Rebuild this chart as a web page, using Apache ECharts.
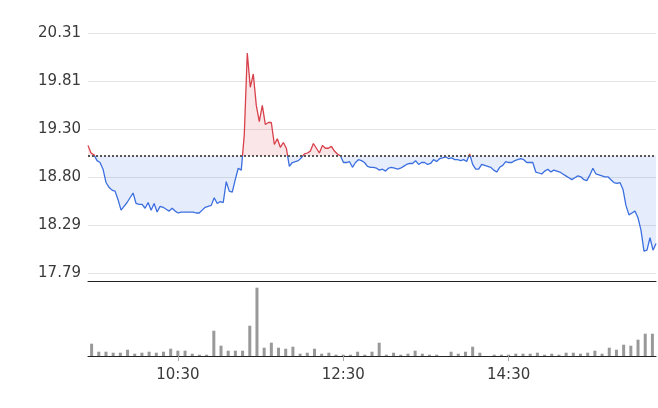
<!DOCTYPE html>
<html><head><meta charset="utf-8">
<script src="https://cdn.jsdelivr.net/npm/echarts@6/dist/echarts.min.js"></script>
<style>html,body{margin:0;padding:0;background:#fff}#c{width:658px;height:408px}</style>
</head><body><div id="c"></div>
<script>
const prevClose = 19.02;
const yMin = 17.79, yMax = 20.31, yStep = 0.504;

const prices = [
19.13,19.05,19.03,18.97,18.95,18.88,18.74,18.69,18.66,18.65,
18.56,18.45,18.49,18.53,18.58,18.63,18.52,18.51,18.51,18.47,
18.53,18.45,18.52,18.43,18.49,18.48,18.46,18.44,18.47,18.44,
18.42,18.43,18.43,18.43,18.43,18.43,18.42,18.42,18.45,18.48,
18.49,18.50,18.58,18.52,18.54,18.53,18.75,18.65,18.64,18.77,
18.89,18.87,19.24,20.10,19.74,19.88,19.55,19.38,19.55,19.35,
19.37,19.37,19.14,19.20,19.11,19.16,19.10,18.91,18.95,18.96,
18.97,19.00,19.04,19.05,19.07,19.15,19.10,19.05,19.13,19.10,
19.10,19.12,19.07,19.04,19.02,18.95,18.95,18.96,18.90,18.95,
18.98,18.97,18.95,18.91,18.90,18.90,18.89,18.87,18.88,18.86,
18.89,18.90,18.89,18.88,18.89,18.91,18.93,18.94,18.94,18.97,
18.93,18.95,18.95,18.93,18.94,18.98,18.96,18.99,19.00,19.01,
18.99,19.00,18.98,18.98,18.97,18.98,18.96,19.04,18.93,18.88,
18.88,18.93,18.92,18.91,18.90,18.87,18.85,18.90,18.92,18.96,
18.95,18.95,18.97,18.98,18.99,18.98,18.95,18.95,18.95,18.85,
18.84,18.83,18.86,18.88,18.85,18.87,18.86,18.85,18.83,18.81,
18.79,18.77,18.79,18.81,18.80,18.77,18.76,18.82,18.89,18.83,
18.82,18.81,18.80,18.80,18.77,18.74,18.73,18.74,18.67,18.50,
18.40,18.42,18.44,18.37,18.24,18.02,18.03,18.16,18.03,18.10
];

const volumes = [
12.3,4.3,4.3,3.3,3.3,6.3,2.3,3.3,4.3,3.3,
4.3,7.3,5.3,5.3,2.3,1.3,1.3,25.3,10.3,5.3,
5.3,5.3,30.3,68.3,8.3,13.3,8.3,7.3,9.3,2.3,
3.3,7.3,2.3,3.3,1.3,1.3,1.3,4.3,1.3,4.3,
13.3,1.3,3.3,1.3,2.3,5.3,2.3,1.3,1.3,0,
4.3,2.3,4.3,9.3,3.3,0,1.3,1.3,1.3,2.3,
2.3,2.3,3.3,1.3,2.3,1.3,3.3,3.3,2.3,3.3,
5.3,2.3,8.3,6.3,11.3,10.3,16.3,22.3,22.3
];
const volMax = 75;

const tickLabels = ['10:30', '12:30', '14:30'];
const tickSlots = [12, 35, 58];

const slotNames = volumes.map(function (v, i) {
  const k = tickSlots.indexOf(i);
  return k >= 0 ? tickLabels[k] : String(i);
});
const showSlot = function (i) { return tickSlots.indexOf(i) >= 0; };

const FONT = 'DejaVu Sans';
const chart = echarts.init(document.getElementById('c'), null, {renderer: 'canvas'});
chart.setOption({
  animation: false,
  backgroundColor: '#fff',
  grid: [
    {left: 88, right: 2, top: 33, height: 240},
    {left: 88, right: 2, top: 281, height: 75}
  ],
  xAxis: [
    {type: 'value', gridIndex: 0, min: 0, max: prices.length - 1, show: false},
    {type: 'category', gridIndex: 1, data: slotNames, boundaryGap: true,
      axisLine: {show: true, lineStyle: {color: '#222', width: 1}},
      axisTick: {show: true, interval: showSlot, alignWithLabel: true, length: 5, lineStyle: {color: '#aaa'}},
      axisLabel: {show: true, interval: showSlot, margin: 12, color: '#3a3a3a', fontSize: 15, fontFamily: FONT},
      splitLine: {show: false}},
    {type: 'category', gridIndex: 1, data: slotNames, position: 'top',
      axisLine: {show: true, lineStyle: {color: '#222', width: 1}},
      axisTick: {show: false}, axisLabel: {show: false}, splitLine: {show: false}}
  ],
  yAxis: [
    {type: 'value', gridIndex: 0, min: yMin, max: yMax, interval: yStep,
      axisLine: {show: false}, axisTick: {show: false},
      axisLabel: {margin: 7, color: '#3a3a3a', fontSize: 15, fontFamily: FONT,
        formatter: function (v) { return v.toFixed(2); }},
      splitLine: {show: true, lineStyle: {color: '#e3e3e3', width: 1}}},
    {type: 'value', gridIndex: 1, min: 0, max: volMax, show: false, splitLine: {show: false}}
  ],
  visualMap: {
    show: false, type: 'piecewise', seriesIndex: 0, dimension: 1,
    pieces: [
      {gte: 17, lt: prevClose, color: '#3b6fe0'},
      {gte: prevClose, lte: 21, color: '#d8404a'}
    ],
    outOfRange: {color: '#3b6fe0'}
  },
  series: [
    {type: 'line', xAxisIndex: 0, yAxisIndex: 0,
      data: prices.map(function (p, i) { return [i, p]; }),
      symbol: 'none', showSymbol: false, silent: true,
      lineStyle: {width: 1.3},
      areaStyle: {origin: prevClose, opacity: 0.13},
      markLine: {silent: true, symbol: ['none', 'none'], label: {show: false},
        lineStyle: {type: [2, 2], color: '#555', width: 2},
        data: [{yAxis: prevClose}]}
    },
    {type: 'bar', xAxisIndex: 1, yAxisIndex: 1, data: volumes, barWidth: 3,
      itemStyle: {color: '#999'}, silent: true}
  ]
});
</script>
</body></html>
